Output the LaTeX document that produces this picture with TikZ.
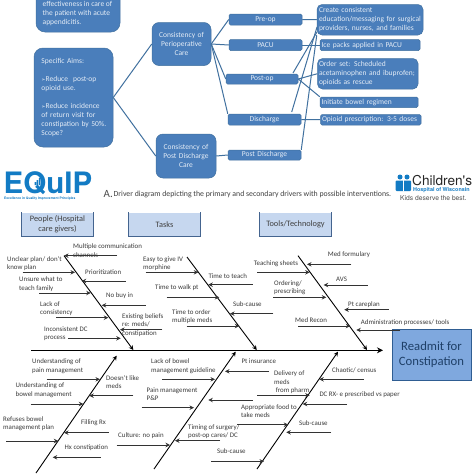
\documentclass[tikz,border=0pt]{standalone}
\usepackage{fontspec}
\setmainfont{Carlito}
\newfontfamily\symfont{DejaVu Sans}
\newfontfamily\logofont{TeX Gyre Heros}
\usetikzlibrary{arrows.meta}
\definecolor{bluefill}{HTML}{4A7EBB}
\definecolor{blueedge}{HTML}{41719F}
\definecolor{boxtext}{HTML}{E4ECF6}
\definecolor{catfill}{HTML}{C6D7EF}
\definecolor{catedge}{HTML}{44648F}
\definecolor{readfill}{HTML}{7FA8DE}
\definecolor{readedge}{HTML}{2F5D92}
\definecolor{readtext}{HTML}{1F4068}
\definecolor{fishtext}{HTML}{3A3A3A}
\definecolor{logoblue}{HTML}{127BC4}
\tikzset{
  bluebox/.style={fill=bluefill,draw=blueedge,line width=.5pt,text=boxtext,font=\fontsize{7.5}{9}\selectfont,inner xsep=0pt,inner ysep=0pt},
  bigbox/.style={bluebox,rounded corners=9pt},
  midbox/.style={bluebox,rounded corners=7pt,align=center},
  smallbox/.style={bluebox,rounded corners=1.5pt,align=center},
  leafbox/.style={bluebox,rounded corners=1.5pt,align=left},
  wideleaf/.style={bluebox,rounded corners=5pt,align=left},
  link/.style={draw=blueedge,line width=1pt},
  catbox/.style={fill=catfill,text=black!75,font=\fontsize{8.3}{10}\selectfont,align=center,inner sep=0pt},
  catline/.style={draw=catedge,line width=1.1pt},
  readbox/.style={fill=readfill,draw=readedge,line width=1pt,text=readtext,font=\fontsize{12.7}{14.5}\selectfont,align=center,inner sep=0pt},
  spine/.style={draw=black,line width=1.3pt,-{Stealth[length=6pt,width=6pt]}},
  bone/.style={draw=black,line width=.9pt,-{Stealth[length=4.5pt,width=4.5pt]}},
  twig/.style={draw=black!80,line width=.75pt,-{Stealth[length=4.5pt,width=4.5pt]}},
  fishlabel/.style={text=fishtext,font=\fontsize{6.9}{8.5}\selectfont,align=left,inner sep=0pt,anchor=west},
}
% name, style, x1, y1, x2, y2, inset, text
\newcommand\placebox[8]{%
  \pgfmathsetmacro\bxw{#5-#3}\pgfmathsetmacro\bxh{#6-#4}%
  \pgfmathsetmacro\bxx{(#3+#5)/2}\pgfmathsetmacro\bxy{(#4+#6)/2}%
  \pgfmathsetmacro\bxt{\bxw-2*#7}%
  \node[#2,minimum width=\bxw pt,minimum height=\bxh pt,text width=\bxt pt] (#1) at (\bxx,\bxy) {#8};}
% name, x start, x end, y, label x, label y, label
\newcommand\fishtwig[7]{%
  \coordinate (#1a) at (#2,#4);\coordinate (#1b) at (#3,#4);
  \draw[twig] (#1a) -- (#1b);
  \node[fishlabel] (#1t) at (#5,#6) {#7};}
\newcommand\fishbone[5]{%
  \coordinate (#1a) at (#2,#3);\coordinate (#1b) at (#4,#5);
  \draw[bone] (#1a) -- (#1b);}
\begin{document}
\begin{tikzpicture}[x=1pt,y=-1pt]
\useasboundingbox (0,0) rectangle (474,474);
\clip (0,0) rectangle (474,474);
\fill[white] (0,0) rectangle (474,474);

% driver diagram
\placebox{goal}{bigbox}{36}{-25}{120}{32}{7}{}
\node[text=boxtext,font=\fontsize{7.5}{9}\selectfont,align=left,inner sep=0pt,anchor=west] (goaltext) at (42.5,13.5) {effectiveness in care of\\the patient with acute\\appendicitis.};
\placebox{aims}{bigbox,align=left}{34}{48}{113}{147}{7.5}{Specific Aims:\\[9pt]{\symfont\fontsize{5}{9}\selectfont ➢}Reduce\ \ post-op\\opioid use.\\[9pt]{\symfont\fontsize{5}{9}\selectfont ➢}Reduce incidence\\of return visit for\\\leavevmode\rlap{constipation by 50\%.}\\Scope?}
\placebox{peri}{midbox}{152}{22.5}{211}{65.5}{2}{Consistency of\\Perioperative\\Care}
\placebox{postd}{midbox}{156}{134}{216}{178}{2}{Consistency of\\Post Discharge\\Care}
\placebox{preop}{smallbox}{229}{14}{302}{25}{2}{Pre-op}
\placebox{pacu}{smallbox}{229}{39.5}{302}{50.5}{2}{PACU}
\placebox{postop}{smallbox}{226}{74}{298}{84}{2}{Post-op}
\placebox{disch}{smallbox}{228}{114}{301}{125}{2}{Discharge}
\placebox{postdis}{smallbox}{228}{150}{301}{160}{2}{Post Discharge}
\placebox{create}{wideleaf}{317}{4.5}{423}{35}{2}{Create consistent\\education/messaging for surgical\\providers, nurses, and families}
\placebox{ice}{leafbox}{320}{39.5}{420}{50.5}{1.5}{Ice packs applied in PACU}
\placebox{order}{wideleaf}{317.5}{58.5}{418}{89}{1.5}{Order set: Scheduled\\acetaminophen and ibuprofen;\\opioids as rescue}
\placebox{bowel}{leafbox}{320}{97}{418}{107.5}{1.5}{Initiate bowel regimen}
\placebox{rx}{leafbox}{320.5}{114.5}{421}{125}{1.5}{Opioid prescription: 3-5 doses}

\draw[link] (aims.east) -- (peri.west);
\draw[link] (aims.east) -- (postd.west);
\draw[link] (peri.east) -- (preop.west);
\draw[link] (peri.east) -- (pacu.west);
\draw[link] (peri.east) -- (postop.west);
\draw[link] (peri.east) -- (disch.west |- disch.north);
\draw[link] (postd.east) -- (postdis.west);
\draw[link] (preop.east) -- (create.west);
\draw[link] (pacu.east) -- (ice.west);
\draw[link] (postop.east) -- (order.west);
\draw[link] (postop.east) -- (bowel.north west);
\draw[link] (disch.east) -- (rx.west);
\coordinate (cpostop) at (293,73);\coordinate (cposttop) at (317,32);
\coordinate (cdisc) at (291.7,112);\coordinate (cdisctop) at (317,27);
\draw[link] (cpostop) -- (cposttop);
\draw[link] (cdisc) -- (cdisctop);
\draw[link] (postdis.north east) -- (create.south west);

% logos and caption
\node[text=logoblue,font=\logofont\bfseries\fontsize{29.5}{28}\selectfont,inner sep=0pt,text depth=0pt,anchor=base west] (equip) at (3.5,193) {EQuIP};
\fill[logoblue] (34.5,182) rectangle (36,185) (36.7,180) rectangle (38.2,185) (38.9,178) rectangle (40.4,185);
\node[text=logoblue,font=\logofont\bfseries\fontsize{3.3}{4}\selectfont,inner sep=0pt,anchor=west] (equiptag) at (4,198.5) {Excellence in Quality Improvement Principles};
\node[text=black!70,font=\fontsize{11}{12}\selectfont,inner sep=0pt,anchor=base west] (capa) at (103.5,197) {A.};
\node[text=black!75,font=\fontsize{7.8}{9}\selectfont,inner sep=0pt,anchor=base west] (caption) at (113.5,196.5) {Driver diagram depicting the primary and secondary drivers with possible interventions.};
\fill[logoblue] (400,177) circle (2.5) (407,177) circle (2.5);
\fill[logoblue,rounded corners=1pt] (395.5,180.5) rectangle (404,191) (402.5,180.5) rectangle (411,191);
\draw[white,line width=.4pt] (403.3,180) -- (403.3,191);
\node[text=black!85,font=\logofont\fontsize{13.6}{14}\selectfont,inner sep=0pt,text depth=0pt,anchor=base west] (childrens) at (412,185) {Children's};
\node[text=logoblue,font=\logofont\bfseries\fontsize{5.4}{6}\selectfont,inner sep=0pt,anchor=west] (hospital) at (413,190) {Hospital of Wisconsin};
\node[text=black!70,font=\logofont\fontsize{6.7}{7}\selectfont,inner sep=0pt,anchor=west] (kids) at (400,198.5) {Kids deserve the best.};

% category boxes
\node[catbox,minimum width=71pt,minimum height=24pt] (people) at (57.5,224.5) {People (Hospital\\care givers)};
\node[catbox,minimum width=71pt,minimum height=24pt] (tasks) at (164.5,224.5) {Tasks};
\node[catbox,minimum width=71pt,minimum height=24pt] (tools) at (295.5,224.5) {Tools/Technology};
\foreach \c in {people,tasks,tools}
  \draw[catline] (\c.north west) -- (\c.south west) -- (\c.south east) -- (\c.north east);

% fishbone
\node[readbox,minimum width=79pt,minimum height=51pt] (readmit) at (431.5,354.5) {Readmit for\\Constipation};
\coordinate (spinestart) at (31,350.3);\coordinate (spineend) at (383,350.3);
\draw[spine] (spinestart) -- (spineend);
\fishbone{ba}{64}{255.7}{133.3}{350}
\fishbone{bb}{187}{257}{256.7}{350}
\fishbone{bc}{298}{255.7}{367}{350}
\fishbone{bd}{36}{473}{116.7}{355.7}
\fishbone{be}{154}{469}{235.7}{351.7}
\fishbone{bf}{257}{469}{338}{351.7}

\fishtwig{a1}{117}{64}{255.7}{73}{250.5}{Multiple communication\\channels}
\fishtwig{a2}{22.7}{75}{272.3}{7}{263.5}{Unclear plan/ don't\\know plan}
\fishtwig{a3}{125.7}{81.7}{281}{85}{272}{Prioritization}
\fishtwig{a4}{39.3}{90.7}{293}{19}{284}{Unsure what to\\teach family}
\fishtwig{a5}{145.7}{101.7}{305.3}{106}{296}{No buy in}
\fishtwig{a6}{56}{108.3}{317.7}{40}{308.5}{Lack of\\consistency}
\fishtwig{a7}{162.3}{120}{329.7}{122}{325}{Existing beliefs\\re: meds/\\constipation}
\fishtwig{a8}{68.3}{120.7}{338.3}{44}{333.5}{Inconsistent DC\\process}

\fishtwig{b1}{145.7}{198.3}{272.3}{143}{263.5}{Easy to give IV\\morphine}
\fishtwig{b2}{252.7}{208.3}{284.7}{208.3}{276}{Time to teach}
\fishtwig{b3}{166.7}{219.3}{297.3}{155}{288}{Time to walk pt}
\fishtwig{b4}{273.3}{230}{313.7}{233}{304.5}{Sub-cause}
\fishtwig{b5}{186.7}{239.3}{326}{172}{316.5}{Time to order\\multiple meds}

\fishtwig{c1}{351.3}{307}{264.3}{327.7}{255}{Med formulary}
\fishtwig{c2}{257}{309.7}{272.3}{253.7}{263.5}{Teaching sheets}
\fishtwig{c3}{367.7}{323.7}{285}{336}{279}{AVS}
\fishtwig{c4}{273}{326.3}{297.3}{274}{287.8}{Ordering/\\prescribing}
\fishtwig{c5}{388.7}{344.3}{309.7}{348}{304.5}{Pt careplan}
\fishtwig{c6}{298}{350.3}{326}{295}{320.5}{Med Recon}
\fishtwig{c7}{400.3}{356.3}{330}{360.7}{323}{Administration processes/ tools}

\fishtwig{d1}{46.7}{100}{379.3}{32}{366}{Understanding of\\pain management}
\fishtwig{d2}{133.3}{89.3}{395.7}{106}{382.3}{Doesn't like\\meds}
\fishtwig{d3}{30.7}{83.3}{404}{15.5}{390.3}{Understanding of\\bowel management}
\fishtwig{d4}{108.7}{64}{432.7}{81}{423}{Filling Rx}
\fishtwig{d5}{6}{58.3}{441}{3}{423.5}{Refuses bowel\\management plan}
\fishtwig{d6}{100.7}{52.7}{457.3}{64.5}{448}{Hx constipation}

\fishtwig{e1}{162.3}{215}{379.3}{151}{366}{Lack of bowel\\management guideline}
\fishtwig{e2}{269}{225}{371.3}{241.3}{361.5}{Pt insurance}
\coordinate (e3a) at (252.7,400);\coordinate (e3b) at (208.3,400);
\draw[twig] (e3a) -- (e3b);
\fishtwig{e4}{141.7}{194}{407.7}{146.5}{394.3}{Pain management\\P\&P}
\fishtwig{e5}{220}{175}{440.7}{188}{431.8}{Timing of surgery/\\post-op cares/ DC}
\fishtwig{e6}{116.7}{170}{445}{118}{436}{Culture: no pain}
\fishtwig{e7}{211}{264}{461.3}{217}{451.5}{Sub-cause}

\fishtwig{f1}{363.7}{319.3}{379.3}{332}{370}{Chaotic/ census}
\fishtwig{f2}{257}{309.7}{395.3}{274}{382.5}{Delivery of\\meds\\\ from pharm}
\fishtwig{f3}{347}{302.7}{404}{319.3}{394.5}{DC RX- e prescribed vs paper}
\fishtwig{f4}{237.3}{288.3}{424.7}{241}{411}{Appropriate food to\\take meds}
\fishtwig{f5}{331}{286.3}{432.3}{299}{423}{Sub-cause}
\end{tikzpicture}
\end{document}
